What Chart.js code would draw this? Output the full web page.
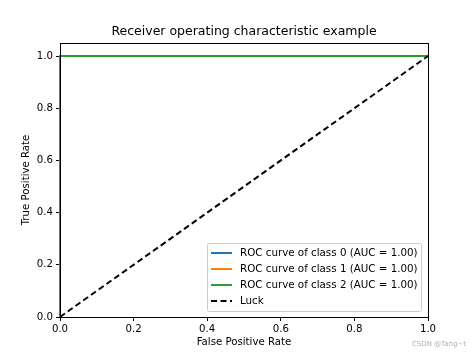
<!DOCTYPE html>
<html><head><meta charset="utf-8">
<script src="https://cdn.jsdelivr.net/npm/chart.js@4"></script>
<style>html,body{margin:0;padding:0;background:#fff}#wrap{width:474px;height:355px;position:relative}</style>
</head><body><div id="wrap"><canvas id="c"></canvas></div>
<script>
const titleText = "Receiver operating characteristic example";
const xLabel = "False Positive Rate";
const yLabel = "True Positive Rate";
const watermark = "CSDN @Tang~t";
const classLabels = ["ROC curve of class 0 (AUC = 1.00)", "ROC curve of class 1 (AUC = 1.00)", "ROC curve of class 2 (AUC = 1.00)"];
const fpr0 = [0, 0, 1];
const tpr0 = [0, 1, 1];
const fpr1 = [0, 0, 1];
const tpr1 = [0, 1, 1];
const fpr2 = [0, 0, 1];
const tpr2 = [0, 1, 1];
const luckX = [0, 1];
const luckY = [0, 1];
const luckLabel = "Luck";
const tickValues = [0, 0.2, 0.4, 0.6, 0.8, 1.0];

const FONT = "'DejaVu Sans', sans-serif";
const pts = (xs, ys) => xs.map((x, i) => ({x: x, y: ys[i]}));
const colors = ['#1f77b4', '#ff7f0e', '#2ca02c'];
const datasets = [
  {label: classLabels[0], data: pts(fpr0, tpr0), borderColor: colors[0], order: 4},
  {label: classLabels[1], data: pts(fpr1, tpr1), borderColor: colors[1], order: 3},
  {label: classLabels[2], data: pts(fpr2, tpr2), borderColor: colors[2], order: 2},
  {label: luckLabel, data: pts(luckX, luckY), borderColor: '#000', borderDash: [6, 3.5], order: 1}
].map(d => Object.assign({borderWidth: 2, pointRadius: 0, fill: false, tension: 0, clip: false}, d));

const frame = {
  id: 'frame',
  afterDatasetsDraw(chart) {
    const ctx = chart.ctx, a = chart.chartArea;
    ctx.save();
    ctx.strokeStyle = '#000'; ctx.lineWidth = 1;
    ctx.strokeRect(Math.round(a.left) + 0.5, Math.round(a.top) + 0.5, Math.round(a.right - a.left), Math.round(a.bottom - a.top));
    // title
    ctx.fillStyle = '#000';
    ctx.font = '12.5px ' + FONT;
    ctx.textAlign = 'center'; ctx.textBaseline = 'middle';
    ctx.fillText(titleText, (a.left + a.right) / 2, 32);
    ctx.font = '10.2px ' + FONT;
    ctx.fillText(xLabel, (a.left + a.right) / 2, 342);
    ctx.save();
    ctx.translate(26, (a.top + a.bottom) / 2);
    ctx.rotate(-Math.PI / 2);
    ctx.fillText(yLabel, 0, 0);
    ctx.restore();
    // watermark
    ctx.font = '7px ' + FONT;
    ctx.fillStyle = '#b0b0b0';
    ctx.textAlign = 'right';
    ctx.fillText(watermark, 466, 344);
    // legend
    const lx = 207, ly = 243, lw = 214, lh = 68;
    ctx.fillStyle = 'rgba(255,255,255,0.8)';
    ctx.strokeStyle = '#cccccc';
    ctx.lineWidth = 1;
    ctx.beginPath();
    if (ctx.roundRect) ctx.roundRect(lx + 0.5, ly + 0.5, lw, lh, 2); else ctx.rect(lx + 0.5, ly + 0.5, lw, lh);
    ctx.fill(); ctx.stroke();
    ctx.font = '10.3px ' + FONT;
    ctx.textAlign = 'left'; ctx.textBaseline = 'middle';
    chart.data.datasets.forEach((ds, i) => {
      const y = 253 + i * 16;
      ctx.strokeStyle = ds.borderColor;
      ctx.lineWidth = 2;
      ctx.setLineDash(ds.borderDash || []);
      ctx.beginPath(); ctx.moveTo(211, y); ctx.lineTo(232, y); ctx.stroke();
      ctx.setLineDash([]);
      ctx.fillStyle = '#000';
      ctx.fillText(ds.label, 240, y + 0.5);
    });
    ctx.restore();
  }
};

new Chart(document.getElementById('c'), {
  type: 'line',
  data: {datasets: datasets},
  plugins: [frame],
  options: {
    responsive: true, maintainAspectRatio: false, animation: false,
    layout: {padding: {top: 43, right: 46, left: 0, bottom: 0}},
    plugins: {legend: {display: false}, title: {display: false}, tooltip: {enabled: false}},
    scales: {
      x: {
        type: 'linear', min: 0, max: 1,
        afterFit(s) { s.height = 38; },
        afterBuildTicks(s) { s.ticks = tickValues.map(v => ({value: v})); },
        grid: {drawOnChartArea: false, drawTicks: true, tickLength: 4, color: '#000'},
        border: {display: false},
        ticks: {color: '#000', font: {family: FONT, size: 10.2}, padding: 2, maxRotation: 0, callback: v => v.toFixed(1)}
      },
      y: {
        type: 'linear', min: 0, max: 1.05,
        afterFit(s) { s.width = 60; },
        afterBuildTicks(s) { s.ticks = tickValues.map(v => ({value: v})); },
        grid: {drawOnChartArea: false, drawTicks: true, tickLength: 4, color: '#000'},
        border: {display: false},
        ticks: {color: '#000', font: {family: FONT, size: 10.2}, padding: 3, callback: v => v.toFixed(1)}
      }
    }
  }
});
</script></body></html>
